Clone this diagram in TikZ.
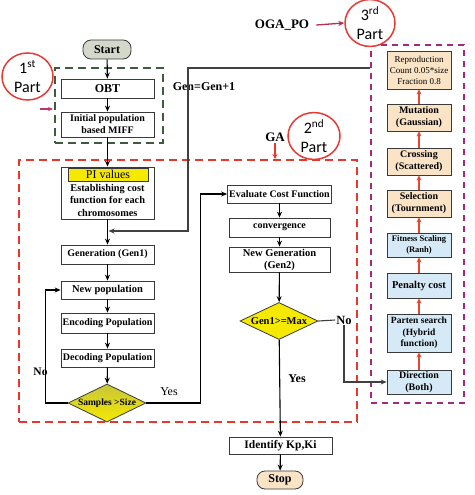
\documentclass[tikz,border=0pt]{standalone}
\usepackage{fontspec}
\setmainfont{Liberation Serif}
\newfontfamily\partfont{Carlito}
\usetikzlibrary{shapes.geometric,arrows.meta}
\definecolor{peach}{HTML}{FBE3C6}
\definecolor{lblue}{HTML}{D5EAF6}
\definecolor{startfill}{HTML}{D4D8CB}
\definecolor{dyellow}{HTML}{F6E900}
\definecolor{boxgray}{HTML}{3A3A3A}
\definecolor{arrowred}{HTML}{E9462E}
\definecolor{circred}{HTML}{E53B35}
\definecolor{greendash}{HTML}{3E5B40}
\definecolor{reddash}{HTML}{E8382E}
\definecolor{purpdash}{HTML}{A3287F}
\definecolor{pinkarr}{HTML}{C0346C}
\definecolor{ogaarr}{HTML}{B52E4A}
\definecolor{fbgray}{HTML}{404040}
\begin{document}
\begin{tikzpicture}[x=1pt,y=-1pt,
  box/.style={draw=boxgray,line width=0.8pt,fill=white,inner sep=0pt,align=center,
    font=\bfseries\fontsize{10}{12}\selectfont},
  obox/.style={box,fill=peach},
  bbox/.style={box,fill=lblue},
  arr/.style={-{Stealth[length=6pt,width=5pt]},line width=1.1pt,black},
  rarr/.style={-{Stealth[length=5pt,width=5pt]},line width=1.1pt,arrowred},
  partc/.style={ellipse,draw=circred,line width=1.5pt,fill=white,inner sep=0pt,align=center,
    font=\partfont\fontsize{16}{19}\selectfont},
  lbl/.style={inner sep=1pt,font=\bfseries\fontsize{12}{14}\selectfont}]
\useasboundingbox (0,0) rectangle (474,495);

% dashed region boxes
\node[draw=greendash,line width=2.5pt,dash pattern=on 8pt off 5pt,minimum width=108pt,minimum height=75pt,inner sep=0pt] (g1) at (109,105.5) {};
\node[draw=reddash,line width=2.4pt,dash pattern=on 8pt off 5pt,minimum width=338pt,minimum height=262pt,inner sep=0pt] (r2) at (188,291) {};
\node[draw=purpdash,line width=2.3pt,dash pattern=on 6pt off 5pt,minimum width=93pt,minimum height=358pt,inner sep=0pt] (p3) at (417.5,224) {};

% part circles
\node[partc,minimum width=51pt,minimum height=47pt] (c1) at (27.5,76.5) {1\textsuperscript{st}\\Part};
\node[partc,minimum width=52pt,minimum height=44pt] (c2) at (314,136) {2\textsuperscript{nd}\\Part};
\node[partc,minimum width=50pt,minimum height=45pt] (c3) at (370,23) {3\textsuperscript{rd}\\Part};

\coordinate (pa1) at (40,109);
\coordinate (pa2) at (53,109);
\draw[-{Stealth[length=5pt,width=4pt]},line width=1.2pt,pinkarr] (pa1) -- (pa2);

\node[lbl,font=\bfseries\fontsize{13}{14}\selectfont] (oga) at (282,25) {OGA\_PO};
\draw[-{Stealth[length=6pt,width=5pt]},line width=1.3pt,ogaarr] (oga.east) ++(6,0) -- (c3.west);

\node[lbl,font=\bfseries\fontsize{13}{14}\selectfont] (ga) at (275,137) {GA};
\coordinate (gaend) at (275,159);
\draw[-{Stealth[length=5pt,width=5pt]},line width=1.3pt,reddash] (ga.south) -- (gaend);

% left column
\node[box,fill=startfill,rounded corners=8pt,minimum width=48pt,minimum height=19pt,font=\bfseries\fontsize{12}{14}\selectfont] (start) at (107,49.5) {Start};
\node[box,minimum width=93pt,minimum height=19pt,font=\bfseries\fontsize{12}{14}\selectfont] (obt) at (107.5,88.5) {OBT};
\node[box,minimum width=93pt,minimum height=25pt,font=\bfseries\fontsize{10}{12}\selectfont] (init) at (107.5,124.5) {Initial population\\based MIFF};
\node[box,minimum width=93pt,minimum height=52pt] (pi) at (107.5,193) {};
\node[draw=boxgray,line width=0.5pt,fill=dyellow,minimum width=80pt,minimum height=13pt,inner sep=0pt,font=\fontsize{12}{13}\selectfont] (piv) at (108,174.5) {PI values};
\node[align=center,inner sep=0pt,font=\bfseries\fontsize{10.3}{12.5}\selectfont] (pitxt) at (107.5,200) {Establishing cost\\function for each\\chromosomes};
\node[box,minimum width=93pt,minimum height=19pt] (gen1) at (107.5,254.5) {Generation (Gen1)};
\node[box,minimum width=93pt,minimum height=18pt,font=\bfseries\fontsize{10.5}{12}\selectfont] (newpop) at (107.5,290) {New population};
\node[box,minimum width=93pt,minimum height=20pt] (enc) at (107.5,323) {Encoding Population};
\node[box,minimum width=93pt,minimum height=18pt] (dec) at (107.5,358) {Decoding Population};
\node[diamond,draw=boxgray,line width=0.8pt,top color=yellow!55!gray,middle color=dyellow,bottom color=dyellow,aspect=2,inner sep=0pt,minimum width=78pt,minimum height=38pt,font=\bfseries\fontsize{9.5}{11}\selectfont] (samp) at (107,403) {Samples >Size};

% right column
\node[box,minimum width=104pt,minimum height=18pt] (eval) at (279.5,194) {Evaluate Cost Function};
\node[box,minimum width=101pt,minimum height=19pt] (conv) at (279.5,227.5) {convergence};
\node[box,minimum width=101pt,minimum height=25pt,font=\bfseries\fontsize{10.5}{12}\selectfont] (newgen) at (279.5,259.5) {New Generation\\(Gen2)};
\node[diamond,draw=boxgray,line width=0.8pt,fill=dyellow,aspect=2.1,inner sep=0pt,minimum width=78pt,minimum height=37pt,font=\bfseries\fontsize{10.5}{12}\selectfont] (gmax) at (279,321) {Gen1>=Max};
\node[box,minimum width=103pt,minimum height=17pt,font=\bfseries\fontsize{11.5}{13}\selectfont] (ident) at (280.5,445.5) {Identify Kp,Ki};
\node[box,fill=peach,rounded corners=8pt,minimum width=46pt,minimum height=18pt,font=\bfseries\fontsize{12}{14}\selectfont] (stop) at (280,480) {Stop};

% 3rd part column
\node[obox,minimum width=64pt,minimum height=38pt,font=\fontsize{9}{11}\selectfont] (repro) at (419,70) {Reproduction\\Count 0.05*size\\Fraction 0.8};
\node[obox,minimum width=64pt,minimum height=27pt] (mut) at (419,117.5) {Mutation\\(Gaussian)};
\node[obox,minimum width=64pt,minimum height=27pt] (cross) at (419,161.5) {Crossing\\(Scattered)};
\node[obox,minimum width=64pt,minimum height=27pt] (sel) at (419,203.5) {Selection\\(Tournment)};
\node[bbox,minimum width=64pt,minimum height=24pt,font=\bfseries\fontsize{8.5}{10.5}\selectfont] (fit) at (419,245) {Fitness Scaling\\(Ranh)};
\node[bbox,minimum width=64pt,minimum height=25pt,font=\bfseries\fontsize{10.5}{12}\selectfont] (pen) at (419,285.5) {Penalty cost};
\node[bbox,minimum width=64pt,minimum height=38pt,font=\bfseries\fontsize{9.5}{11.5}\selectfont] (parten) at (419,333) {Parten search\\(Hybrid\\function)};
\node[bbox,minimum width=64pt,minimum height=24pt] (dir) at (419,382) {Direction\\(Both)};

% labels
\node[lbl,fill=white,inner sep=0.5pt,font=\bfseries\fontsize{11.5}{13}\selectfont] (nol) at (40.5,372) {No};
\node[lbl,font=\fontsize{12}{14}\selectfont] (yesl) at (169,392) {Yes};
\node[lbl,font=\bfseries\fontsize{12.5}{14}\selectfont] (nor) at (344,320) {No};
\node[lbl] (yesr) at (297,379) {Yes};
\node[lbl,font=\bfseries\fontsize{12}{14}\selectfont] (genl) at (204,87) {Gen=Gen+1};

% connectors left column
\draw[arr] (start) -- (obt);
\draw[arr] (obt) -- (init);
\draw[arr] (init) -- (pi);
\draw[arr] (pi) -- (gen1);
\draw[arr] (gen1) -- (newpop);
\draw[arr] (newpop) -- (enc);
\draw[arr] (enc) -- (dec);
\draw[arr] (dec) -- (samp);
\draw[arr] (samp.west) -- ++(-22,0) |- (newpop.west);
\draw[arr] (samp.east) -- ++(54,0) |- (eval.west);

% feedback Gen=Gen+1
\coordinate (fb) at (p3.west |- 0,68);
\coordinate (fbc) at (188,231);
\coordinate (join) at (108.5,231);
\draw[-{Stealth[length=6pt,width=5pt]},line width=1.1pt,fbgray] (fb) -| (fbc) -- (join);

% right column connectors
\draw[arr] (eval) -- (conv);
\draw[arr] (conv) -- (newgen);
\draw[arr] (newgen) -- (gmax);
\draw[arr] (gmax) -- (ident);
\draw[arr] (ident) -- (stop);
\draw[line width=1.1pt,fbgray] (gmax.east) -- (nor.west);
\draw[-{Stealth[length=6pt,width=5pt]},line width=1.1pt,fbgray] (nor.south) |- (dir.west);

% 3rd part connectors
\draw[rarr] (dir) -- (parten);
\draw[rarr] (parten) -- (pen);
\draw[rarr] (pen) -- (fit);
\draw[rarr] (fit) -- (sel);
\draw[rarr] (sel) -- (cross);
\draw[rarr] (cross) -- (mut);
\draw[rarr] (mut) -- (repro);
\end{tikzpicture}
\end{document}
